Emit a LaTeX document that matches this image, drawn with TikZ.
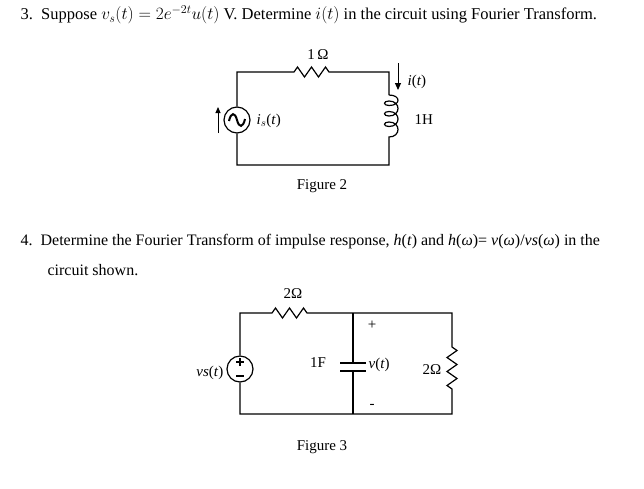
\documentclass[tikz,border=0pt]{standalone}
\usepackage{fontspec}
\setmainfont{Liberation Serif}
\usetikzlibrary{arrows.meta}
\begin{document}
\begin{tikzpicture}[x=1pt,y=-1pt,line width=1.2pt,
  txt/.style={font=\fontsize{16.5}{18}\selectfont,inner sep=0pt},
  lbl/.style={font=\fontsize{15}{17}\selectfont,inner sep=0pt},
  wire/.style={line width=1.2pt}]
\useasboundingbox (0,0) rectangle (644,488);
% texts
\node[txt,anchor=west] (t1) at (20,15) {3.\ \ Suppose $v_s(t)=2e^{-2t}u(t)$ V. Determine $i(t)$ in the circuit using Fourier Transform.};
\node[txt,anchor=west,font=\fontsize{16}{18}\selectfont] (t2) at (20,242) {4.\ \ Determine the Fourier Transform of impulse response, \textit{h}(\textit{t}) and \textit{h}(\textit{ω})= \textit{v}(\textit{ω})/\textit{vs}(\textit{ω}) in the};
\node[txt,anchor=west,font=\fontsize{16}{18}\selectfont] (t3) at (47,270) {circuit shown.};
% circuit 1
\coordinate (a1) at (237,72); \coordinate (a2) at (389,72);
\coordinate (a3) at (389,165); \coordinate (a4) at (237,165);
\node[circle,draw,line width=1.2pt,minimum size=26pt,inner sep=0pt] (s1) at (237,120) {};
\draw[wire] (s1.north) -- (a1) -- (290,72) -- (294,72) -- ++(3.5,-5) -- ++(7,10) -- ++(7,-10) -- ++(7,10) -- ++(7,-10) -- ++(3.5,5) -- (a2) -- (389,95);
\draw[wire] (389,95) .. controls (401,95) and (401,105.5) .. (389,105.5)
  .. controls (383,105.5) and (383,101) .. (389,101)
  .. controls (401,101) and (401,116) .. (389,116)
  .. controls (383,116) and (383,111.5) .. (389,111.5)
  .. controls (401,111.5) and (401,126.5) .. (389,126.5)
  .. controls (383,126.5) and (383,122) .. (389,122)
  .. controls (401,122) and (401,137) .. (389,137) -- (a3) -- (a4) -- (s1.south);
\draw[line width=2pt] (229,121) .. controls (231,112) and (235,112) .. (237,120) .. controls (239,128) and (243,128) .. (245,119);
\draw[-{Triangle[length=6pt,width=5pt]},line width=1pt] (218,133) -- (218,107);
\draw[-{Triangle[length=7pt,width=6pt]},line width=1pt] (398,63) -- (398,90);
\node[lbl] (l1) at (318,55) {1\,Ω};
\node[lbl,anchor=west] (l2) at (256,121) {\textit{i}$_s$(\textit{t})};
\node[lbl,anchor=west] (l3) at (407,82) {\textit{i}(\textit{t})};
\node[lbl,anchor=west] (l4) at (414,120) {1H};
\node[lbl] (f2) at (322,186) {Figure 2};
% circuit 2
\node[circle,draw,line width=1.2pt,minimum size=26pt,inner sep=0pt] (s2) at (240,369) {};
\draw[line width=1.5pt] (236,362) -- (244,362) (240,358) -- (240,366);
\draw[line width=1.5pt] (236,376) -- (244,376);
\coordinate (b1) at (240,313); \coordinate (b2) at (353,313); \coordinate (b3) at (452,313);
\coordinate (b4) at (452,414); \coordinate (b5) at (353,414); \coordinate (b6) at (240,414);
\draw[wire] (s2.north) -- (b1) -- (272,313) -- ++(3.5,-5) -- ++(7,10) -- ++(7,-10) -- ++(7,10) -- ++(7,-10) -- ++(3.5,5) -- (b2) -- (b3) -- (452,347) -- ++(5,3.5) -- ++(-10,7) -- ++(10,7) -- ++(-10,7) -- ++(10,7) -- ++(-10,7) -- ++(5,3.5) -- (b4) -- (b5) -- (b6) -- (s2.south);
\draw[wire] (b2) -- (353,363); \draw[wire] (353,371) -- (b5);
\draw[line width=2.8pt] (340,363) -- (366,363); \draw[line width=2.8pt] (340,371) -- (366,371);
\node[lbl] (m1) at (293,294) {2Ω};
\node[lbl,anchor=east] (m2) at (224,373) {\textit{vs}(\textit{t})};
\node[lbl] (m3) at (318,363) {1F};
\node[lbl,anchor=west] (m4) at (368,365) {\textit{v}(\textit{t})};
\node[lbl] (m5) at (372,325) {+};
\node[lbl] (m6) at (372,406) {-};
\node[lbl] (m7) at (432,370) {2Ω};
\node[lbl] (f3) at (322,447) {Figure 3};
\end{tikzpicture}
\end{document}
